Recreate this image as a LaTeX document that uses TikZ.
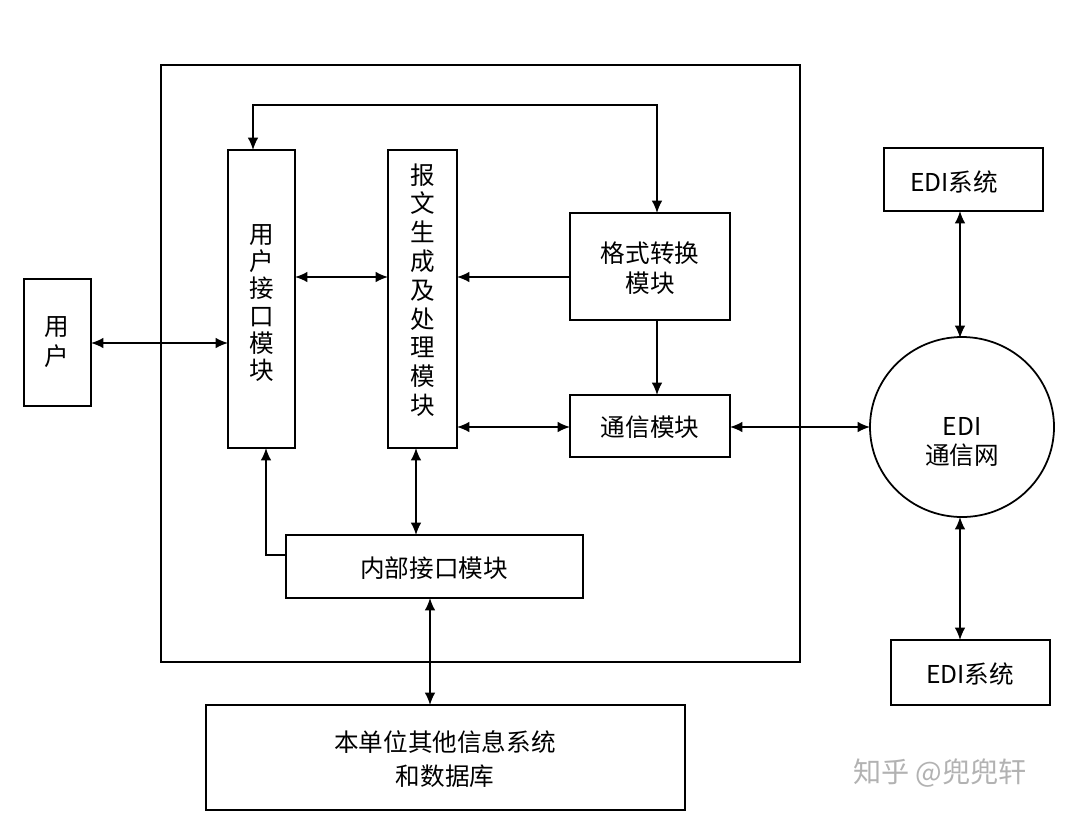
\documentclass[tikz,border=0pt]{standalone}
\usepackage{fontspec}
\setmainfont{Noto Sans CJK SC}
\usetikzlibrary{arrows.meta}
\begin{document}
\begin{tikzpicture}[x=0.02cm,y=-0.02cm,
  box/.style={draw,line width=1pt,inner sep=0pt},
  lab/.style={font=\fontsize{14}{17}\selectfont,align=center},
  arr/.style={line width=0.9pt,-{Latex[length=7pt,width=6pt]}},
  darr/.style={line width=0.9pt,{Latex[length=7pt,width=6pt]}-{Latex[length=7pt,width=6pt]}}]
\useasboundingbox (0,0) rectangle (1070,819);
\draw[line width=1pt] (161,65) rectangle (800,662);
\draw[box] (228,150) rectangle (295,448);
\node[lab,font=\fontsize{14}{15.5}\selectfont] (ui) at (261.5,303) {用\\户\\接\\口\\模\\块};
\coordinate (uiT) at (253,150); \coordinate (uiB) at (266,448);
\draw[box] (388,150) rectangle (457,448);
\node[lab,font=\fontsize{14}{16.4}\selectfont] (bw) at (422.5,290) {报\\文\\生\\成\\及\\处\\理\\模\\块};
\draw[box] (570,213) rectangle (730,320); \node[lab] (gs) at (650,268) {格式转换\\模块};
\draw[box] (570,395) rectangle (730,457); \node[lab] (tx) at (650,427) {通信模块};
\draw[box] (286,535) rectangle (583,598); \node[lab] (nb) at (434,568) {内部接口模块};
\draw[box] (24,279) rectangle (91,406); \node[lab] (yh) at (57,342) {用\\户};
\draw[box] (206,705) rectangle (685,810); \node[lab,font=\fontsize{14}{19}\selectfont] (db) at (445,759) {本单位其他信息系统\\和数据库};
\draw[box] (884,148) rectangle (1043,211); \node[lab] (e1) at (954,182) {EDI系统};
\draw[box] (891,640) rectangle (1050,705); \node[lab] (e2) at (970,674) {EDI系统};
\draw[line width=1pt] (962,427) ellipse [x radius=92, y radius=90];
\node[lab] (net) at (962,442) {EDI\\通信网};
\node[font=\fontsize{16}{18}\selectfont,text=gray!60] (wm) at (940,773) {知乎 @兜兜轩};
% connectors
\draw[darr] (91,343) -- (228,343);
\draw[darr] (295,277) -- (388,277);
\draw[arr] (570,277) -- (457,277);
\draw[darr] (uiT) -- (253,105) -- (657,105) -- (657,213);
\draw[arr] (657,320) -- (657,395);
\draw[darr] (457,427) -- (570,427);
\draw[darr] (730,427) -- (870,427);
\draw[darr] (416,448) -- (416,535);
\draw[arr] (286,555) -- (266,555) -- (uiB);
\draw[darr] (430,598) -- (430,705);
\draw[darr] (960,211) -- (960,338);
\draw[darr] (960,517) -- (960,640);
\end{tikzpicture}
\end{document}
